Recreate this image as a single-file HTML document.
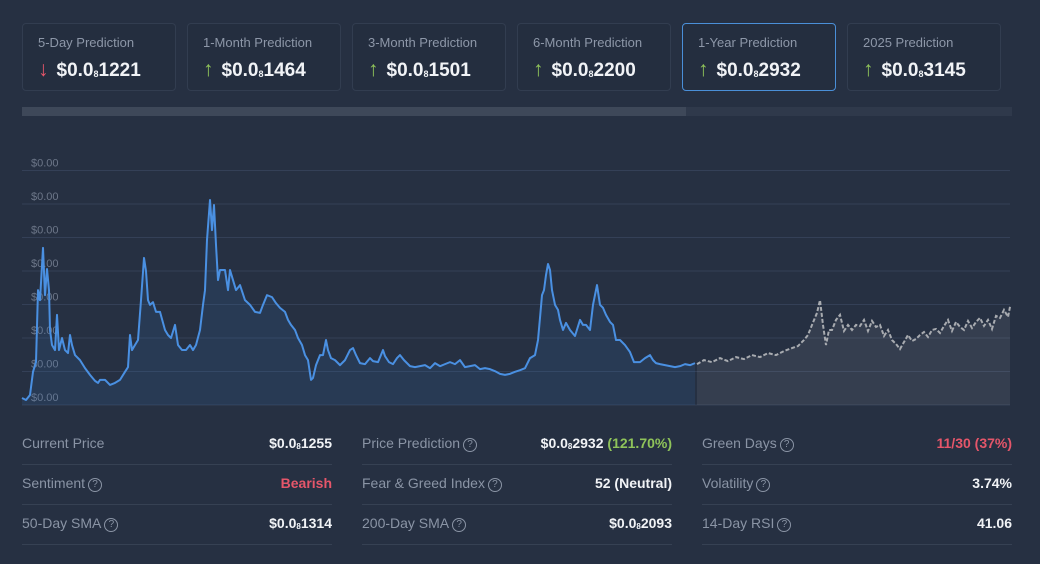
<!DOCTYPE html>
<html><head><meta charset="utf-8">
<style>
*{box-sizing:border-box;margin:0;padding:0}
body{width:1040px;height:564px;background:#263042;font-family:"Liberation Sans",sans-serif;overflow:hidden;position:relative;color:#fff}
.card{position:absolute;top:23px;width:154px;height:68px;border:1px solid #323d50;border-radius:4px;background:#242e3f}
.card.active{border-color:#4a8fd8}
.card .t{position:absolute;left:15px;top:11px;font-size:13px;color:#8d97a8}
.card .v{position:absolute;left:15px;top:34px;font-size:19px;font-weight:bold;color:#f1f3f6;white-space:nowrap}
.card .v sub{font-size:9px;vertical-align:-1px}
.up{color:#8fc35a;margin-right:8px;font-size:21px}
.dn{color:#e5566a;margin-right:8px;font-size:21px}
.bar{position:absolute;left:22px;top:107px;width:990px;height:9px;background:#2f394b}
.bar div{width:664px;height:9px;background:#3e4859}
.row{position:absolute;height:41px;border-bottom:1px solid #364153;width:310px}
.row .l{position:absolute;left:0;top:11px;font-size:14px;color:#8a94a5}
.row .r{position:absolute;right:0;top:11px;font-size:14px;font-weight:bold;color:#f1f3f6}
.row .r sub{font-size:8px;vertical-align:-1px}
.q{display:inline-block;width:14px;height:14px;border:1px solid #8a94a5;border-radius:50%;font-size:10px;text-align:center;line-height:12px;margin-left:3px;vertical-align:1px}
</style></head><body>
<div class="card" style="left:22px"><div class="t">5-Day Prediction</div><div class="v"><span class="dn">↓</span>$0.0<sub>8</sub>1221</div></div>
<div class="card" style="left:187px"><div class="t">1-Month Prediction</div><div class="v"><span class="up">↑</span>$0.0<sub>8</sub>1464</div></div>
<div class="card" style="left:352px"><div class="t">3-Month Prediction</div><div class="v"><span class="up">↑</span>$0.0<sub>8</sub>1501</div></div>
<div class="card" style="left:517px"><div class="t">6-Month Prediction</div><div class="v"><span class="up">↑</span>$0.0<sub>8</sub>2200</div></div>
<div class="card active" style="left:682px"><div class="t">1-Year Prediction</div><div class="v"><span class="up">↑</span>$0.0<sub>8</sub>2932</div></div>
<div class="card" style="left:847px"><div class="t">2025 Prediction</div><div class="v"><span class="up">↑</span>$0.0<sub>8</sub>3145</div></div>
<div class="bar"><div></div></div>

<svg id="chart" width="1040" height="564" style="position:absolute;left:0;top:0"></svg>

<div class="row" style="left:22px;top:424px"><span class="l">Current Price</span><span class="r">$0.0<sub>8</sub>1255</span></div>
<div class="row" style="left:22px;top:464px"><span class="l">Sentiment<span class="q">?</span></span><span class="r" style="color:#e5566a">Bearish</span></div>
<div class="row" style="left:22px;top:504px"><span class="l">50-Day SMA<span class="q">?</span></span><span class="r">$0.0<sub>8</sub>1314</span></div>
<div class="row" style="left:362px;top:424px"><span class="l">Price Prediction<span class="q">?</span></span><span class="r">$0.0<sub>8</sub>2932 <span style="color:#8fc35a">(121.70%)</span></span></div>
<div class="row" style="left:362px;top:464px"><span class="l">Fear &amp; Greed Index<span class="q">?</span></span><span class="r">52 (Neutral)</span></div>
<div class="row" style="left:362px;top:504px"><span class="l">200-Day SMA<span class="q">?</span></span><span class="r">$0.0<sub>8</sub>2093</span></div>
<div class="row" style="left:702px;top:424px"><span class="l">Green Days<span class="q">?</span></span><span class="r" style="color:#e5566a">11/30 (37%)</span></div>
<div class="row" style="left:702px;top:464px"><span class="l">Volatility<span class="q">?</span></span><span class="r">3.74%</span></div>
<div class="row" style="left:702px;top:504px"><span class="l">14-Day RSI<span class="q">?</span></span><span class="r">41.06</span></div>

<script>
const yTicks = ["$0.00","$0.00","$0.00","$0.00","$0.00","$0.00","$0.00","$0.00"];
const histDays = [0,4,8,11,14,16,18,21,23,25,27,28,30,33,35,37,40,43,46,48,50,53,58,63,68,73,76,78,83,88,93,98,103,106,108,110,113,116,119,122,124,126,128,131,134,138,143,146,149,153,156,160,164,168,171,174,178,181,183,185,188,190,192,194,196,198,203,206,208,211,214,218,223,228,233,238,241,245,250,254,258,263,266,269,273,276,280,283,286,289,291,294,298,301,304,306,309,313,318,323,328,331,334,338,343,348,351,356,361,363,367,371,375,378,382,388,393,398,403,408,413,418,423,428,433,438,443,448,453,458,463,468,473,478,483,488,493,498,503,508,513,516,518,520,522,524,526,528,530,533,536,538,541,544,548,553,558,561,564,568,571,575,578,581,584,588,591,594,598,603,608,612,618,623,628,631,634,638,643,648,653,658,663,668,673];
const histVals = [0.21,0.15,0.3,0.99,1.28,3.43,3.13,4.69,3.28,4.06,3.43,2.24,1.79,1.64,2.69,1.64,2.0,1.64,1.55,2.09,1.79,1.49,1.34,1.10,0.9,0.72,0.66,0.75,0.75,0.6,0.66,0.75,0.99,1.13,2.09,1.64,1.79,1.94,3.13,4.39,4.0,3.13,2.99,3.07,2.78,2.78,2.24,2.09,2.0,2.39,1.79,1.64,1.64,1.79,1.64,1.79,2.24,2.99,3.43,4.93,6.12,5.22,5.97,4.78,3.73,4.03,4.03,3.43,4.03,3.73,3.43,3.58,3.13,2.99,2.78,2.75,2.99,3.28,3.22,3.04,2.9,2.78,2.54,2.39,2.24,2.0,1.79,1.49,1.34,0.75,0.81,1.19,1.49,1.49,1.94,1.64,1.40,1.34,1.19,1.34,1.64,1.70,1.49,1.25,1.22,1.40,1.31,1.28,1.64,1.46,1.28,1.22,1.40,1.49,1.34,1.16,1.13,1.16,1.19,1.10,1.25,1.16,1.22,1.28,1.22,1.34,1.13,1.16,1.19,1.07,1.10,1.07,1.01,0.93,0.90,0.93,0.99,1.04,1.10,1.40,1.49,1.94,2.60,3.28,3.43,3.88,4.21,4.03,3.43,2.99,2.84,2.54,2.24,2.45,2.24,2.06,2.54,2.39,2.39,2.24,2.99,3.58,2.99,2.90,2.69,2.48,2.39,1.94,1.94,1.79,1.58,1.28,1.28,1.40,1.49,1.34,1.25,1.22,1.19,1.16,1.13,1.16,1.22,1.19,1.25];
const fcDays = [675,682,690,698,706,714,722,730,738,746,754,762,770,776,782,786,790,795,798,801,804,807,810,814,818,822,826,830,834,838,842,846,850,854,858,862,866,870,874,878,882,886,890,894,898,902,906,910,914,918,922,926,930,934,938,942,946,950,954,958,962,966,970,974,978,982,986,988];
const fcVals = [1.22,1.34,1.28,1.40,1.31,1.43,1.37,1.49,1.43,1.55,1.49,1.61,1.70,1.76,1.94,2.09,2.39,2.75,3.13,2.39,1.79,2.24,2.24,2.54,2.69,2.21,2.39,2.24,2.39,2.36,2.54,2.21,2.51,2.33,2.39,2.06,2.24,1.94,1.82,1.67,1.88,2.09,1.91,1.97,2.09,2.18,2.03,2.24,2.27,2.15,2.36,2.54,2.21,2.48,2.33,2.24,2.51,2.30,2.48,2.60,2.36,2.54,2.27,2.66,2.60,2.84,2.63,2.93];

const svg=document.getElementById('chart');
const NS='http://www.w3.org/2000/svg';
const x=d=>22+d;
const y=v=>405-v*33.5;
function mk(t,a){const e=document.createElementNS(NS,t);for(const k in a)e.setAttribute(k,a[k]);svg.appendChild(e);return e;}
yTicks.forEach((t,i)=>{
  const g=mk('line',{x1:22,x2:1010,y1:y(i),y2:y(i),stroke:'#344057','stroke-width':1});
  
  
  const tx=mk('text',{x:31,y:y(i)-4,fill:'#6d7789','font-size':11,'font-family':'Liberation Sans, sans-serif'});
  tx.textContent=t;
  
  
});
const hn=Math.min(histDays.length,histVals.length);
const hpts=[];for(let i=0;i<hn;i++)hpts.push(x(histDays[i])+','+y(histVals[i]));
const hp=hpts.join(' L');
const ha=mk('path',{d:'M'+x(histDays[0])+','+y(0)+' L'+hp+' L'+x(histDays[hn-1])+','+y(0)+'Z',fill:'rgba(60,120,200,0.14)'});


const fn=Math.min(fcDays.length,fcVals.length);
const fpts=[];for(let i=0;i<fn;i++)fpts.push(x(fcDays[i])+','+y(fcVals[i]));
const fp=fpts.join(' L');
const fa=mk('path',{d:'M'+x(fcDays[0])+','+y(0)+' L'+fp+' L'+x(fcDays[fn-1])+','+y(0)+'Z',fill:'rgba(255,255,255,0.07)'});


const hl=mk('path',{d:'M'+hp,fill:'none',stroke:'#4a90e2','stroke-width':2,'stroke-linejoin':'round'});


const fl=mk('path',{d:'M'+fp,fill:'none',stroke:'#a8abb0','stroke-width':2,'stroke-dasharray':'4 2'});


</script>
</body></html>
